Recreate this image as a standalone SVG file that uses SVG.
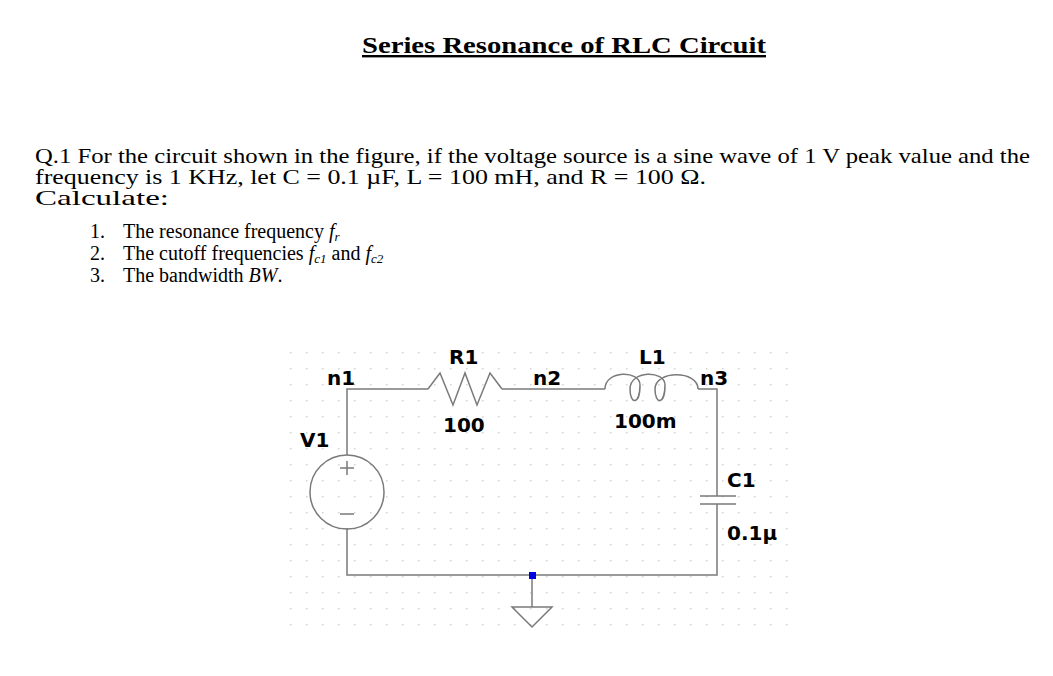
<svg xmlns="http://www.w3.org/2000/svg" width="1053" height="676" viewBox="0 0 1053 676">
<defs>
<pattern id="grid" x="283" y="345" width="16" height="16" patternUnits="userSpaceOnUse">
<rect x="7" y="7" width="1.5" height="1.5" fill="#d4d4d4"/>
</pattern>
</defs>
<style>
.t{font-family:"Liberation Serif","Times New Roman",serif;font-size:21px;fill:#000}
.l{font-family:"Liberation Serif","Times New Roman",serif;font-size:20px;fill:#000}
.lb{font-family:"DejaVu Sans","Liberation Sans",sans-serif;font-weight:bold;font-size:20px;fill:#000}
.w{fill:none;stroke:#7a7a7a;stroke-width:1.5}
</style>
<rect width="1053" height="676" fill="#fff"/>
<text x="362" y="53" class="t" textLength="404" lengthAdjust="spacingAndGlyphs" style="font-weight:bold;font-size:24px;text-decoration:underline">Series Resonance of RLC Circuit</text>
<text x="35" y="163" class="t" textLength="995" lengthAdjust="spacingAndGlyphs">Q.1 For the circuit shown in the figure, if the voltage source is a sine wave of 1 V peak value and the</text>
<text x="35" y="184" class="t" textLength="671" lengthAdjust="spacingAndGlyphs">frequency is 1 KHz, let C = 0.1 µF, L = 100 mH, and R = 100 Ω.</text>
<text x="35" y="205" class="t" textLength="134" lengthAdjust="spacingAndGlyphs">Calculate:</text>
<text x="90" y="238" class="l">1.</text><text x="123" y="238" class="l">The resonance frequency <tspan font-style="italic">f</tspan><tspan font-style="italic" font-size="13" baseline-shift="-3">r</tspan></text>
<text x="90" y="260" class="l">2.</text><text x="123" y="260" class="l">The cutoff frequencies <tspan font-style="italic">f</tspan><tspan font-style="italic" font-size="13" baseline-shift="-3">c1</tspan> and <tspan font-style="italic">f</tspan><tspan font-style="italic" font-size="13" baseline-shift="-3">c2</tspan></text>
<text x="90" y="282" class="l">3.</text><text x="123" y="282" class="l">The bandwidth <tspan font-style="italic">BW</tspan>.</text>
<rect x="283" y="345" width="512" height="292" fill="url(#grid)"/>
<g id="connectors">
<polyline class="w" points="347,455 347,389 428,389"/>
<polyline class="w" points="502,389 605,389"/>
<polyline class="w" points="698,389 717,389 717,496"/>
<polyline class="w" points="717,504 717,575 347,575 347,528"/>
<line class="w" x1="532" y1="575" x2="532" y2="607"/>
</g>
<g id="V1"><circle class="w" cx="347" cy="492" r="37" stroke-width="1"/>
<path class="w" stroke-width="1" d="M340,468h14M347,461v14M340,514h14"/>
<text x="300" y="447" class="lb">V1</text></g>
<g id="R1"><polyline class="w" points="428,389 440,373 453,405 465,373 477,405 490,373 502,389"/>
<text x="449" y="364" class="lb">R1</text><text x="443" y="432" class="lb">100</text></g>
<g id="L1"><path class="w" d="M605,389 C605,370 640,370 640,385 C640,405 630,405 630,389 C630,370 665,370 665,385 C665,405 655,405 655,389 C655,370 698,370 698,389"/>
<text x="639" y="364" class="lb">L1</text><text x="614" y="428" class="lb">100m</text></g>
<g id="C1"><path class="w" d="M700,496h36M700,504h36"/>
<text x="727" y="487" class="lb">C1</text><text x="727" y="540" class="lb">0.1µ</text></g>
<g id="GND"><polygon class="w" points="512,607 552,607 532,627"/>
<rect x="529" y="572" width="7" height="7" fill="#0000e0"/></g>
<g id="labels"><text x="327" y="385" class="lb">n1</text><text x="533" y="385" class="lb">n2</text><text x="700" y="385" class="lb">n3</text></g>
</svg>
